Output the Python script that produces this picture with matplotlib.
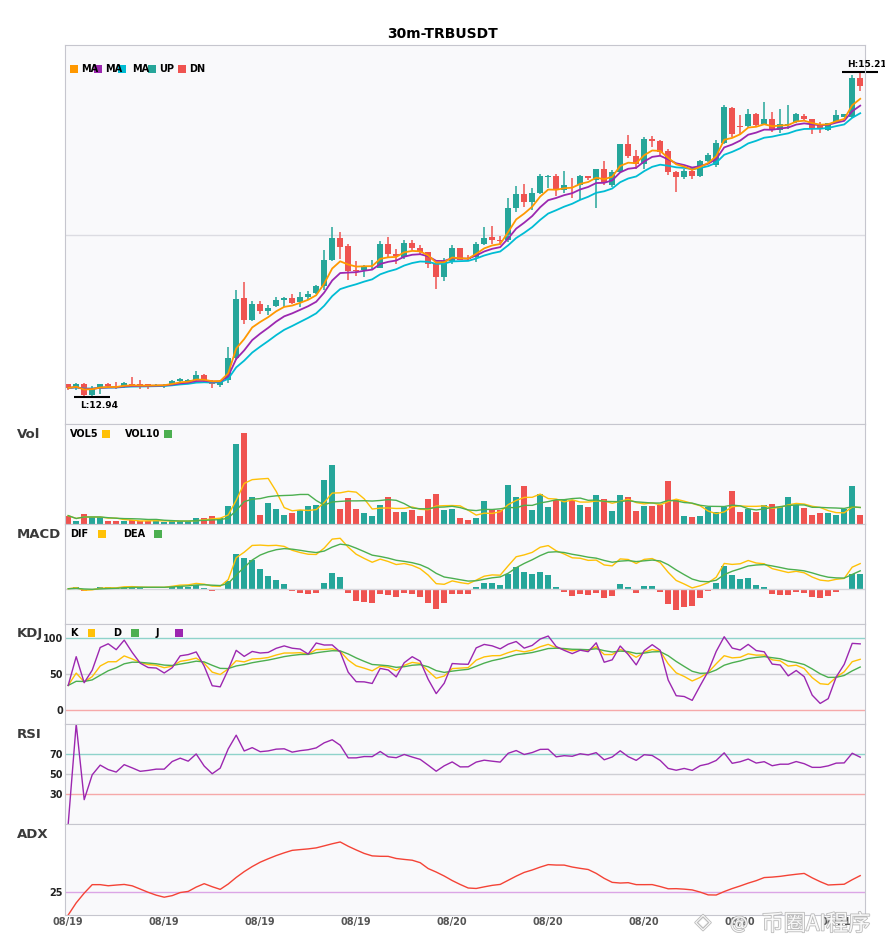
import numpy as np
import pandas as pd
import matplotlib
matplotlib.use('Agg')
import matplotlib.pyplot as plt
from matplotlib.patches import Rectangle
import matplotlib.patheffects as pe

# 30m candles
opens = [13.031, 13.008, 13.031, 12.956, 13.005, 13.031, 13.019, 13.017, 13.036, 13.031,
         13.031, 13.019, 13.017, 13.026, 13.052, 13.050, 13.063, 13.096, 13.047, 13.024,
         13.059, 13.214, 13.635, 13.477, 13.589, 13.542, 13.575, 13.616, 13.632, 13.603,
         13.640, 13.667, 13.714, 13.895, 14.049, 13.993, 13.829, 13.826, 13.853, 13.844,
         14.007, 13.937, 13.918, 14.014, 13.979, 13.951, 13.872, 13.779, 13.888, 13.979,
         13.914, 13.918, 14.007, 14.058, 14.035, 14.035, 14.260, 14.356, 14.302, 14.365,
         14.479, 14.481, 14.388, 14.414, 14.418, 14.481, 14.453, 14.535, 14.418, 14.511,
         14.704, 14.621, 14.565, 14.739, 14.727, 14.656, 14.511, 14.476, 14.516, 14.481,
         14.588, 14.558, 14.716, 14.960, 14.832, 14.832, 14.914, 14.842, 14.879, 14.802,
         14.835, 14.860, 14.902, 14.879, 14.837, 14.802, 14.853, 14.895, 14.891, 15.167]
highs = [13.036, 13.038, 13.040, 13.017, 13.036, 13.040, 13.047, 13.047, 13.082, 13.059,
         13.036, 13.033, 13.031, 13.059, 13.077, 13.070, 13.121, 13.100, 13.063, 13.063,
         13.291, 13.686, 13.742, 13.610, 13.610, 13.582, 13.640, 13.640, 13.658, 13.674,
         13.679, 13.720, 13.965, 14.128, 14.093, 14.012, 13.888, 13.861, 13.895, 14.030,
         14.058, 13.977, 14.040, 14.040, 14.000, 13.953, 13.884, 13.914, 14.000, 13.984,
         13.930, 14.023, 14.128, 14.133, 14.063, 14.328, 14.411, 14.430, 14.396, 14.495,
         14.493, 14.495, 14.518, 14.472, 14.488, 14.483, 14.535, 14.586, 14.523, 14.709,
         14.767, 14.663, 14.755, 14.760, 14.737, 14.674, 14.515, 14.535, 14.546, 14.593,
         14.640, 14.732, 14.976, 14.965, 14.907, 14.953, 14.923, 15.000, 14.930, 14.949,
         14.976, 14.919, 14.914, 14.883, 14.860, 14.852, 14.942, 14.916, 15.186, 15.210]
lows = [12.989, 12.994, 12.942, 12.940, 12.966, 13.012, 13.001, 13.008, 13.012, 13.001,
        12.996, 13.010, 13.008, 13.019, 13.043, 13.036, 13.052, 13.050, 13.008, 13.012,
        13.040, 13.198, 13.449, 13.470, 13.519, 13.512, 13.570, 13.570, 13.589, 13.570,
        13.616, 13.663, 13.686, 13.888, 13.902, 13.756, 13.786, 13.779, 13.826, 13.838,
        13.918, 13.872, 13.907, 13.965, 13.930, 13.838, 13.693, 13.751, 13.872, 13.895,
        13.891, 13.884, 14.000, 14.007, 14.000, 14.023, 14.232, 14.267, 14.249, 14.360,
        14.396, 14.342, 14.365, 14.326, 14.319, 14.453, 14.260, 14.418, 14.407, 14.502,
        14.605, 14.535, 14.530, 14.686, 14.628, 14.488, 14.372, 14.465, 14.465, 14.476,
        14.581, 14.546, 14.709, 14.755, 14.767, 14.825, 14.825, 14.837, 14.790, 14.783,
        14.814, 14.853, 14.865, 14.774, 14.783, 14.797, 14.849, 14.891, 14.884, 15.076]
closes = [13.005, 13.031, 12.956, 13.001, 13.031, 13.019, 13.012, 13.038, 13.029, 13.019,
          13.022, 13.026, 13.026, 13.052, 13.066, 13.059, 13.093, 13.059, 13.031, 13.056,
          13.214, 13.628, 13.477, 13.589, 13.542, 13.566, 13.621, 13.632, 13.598, 13.637,
          13.663, 13.714, 13.895, 14.049, 13.988, 13.821, 13.822, 13.858, 13.857, 14.007,
          13.937, 13.925, 14.014, 13.981, 13.951, 13.872, 13.779, 13.888, 13.979, 13.900,
          13.902, 14.007, 14.054, 14.040, 14.028, 14.260, 14.356, 14.302, 14.365, 14.481,
          14.486, 14.384, 14.418, 14.410, 14.481, 14.467, 14.530, 14.441, 14.511, 14.704,
          14.621, 14.565, 14.739, 14.727, 14.651, 14.511, 14.476, 14.516, 14.481, 14.586,
          14.628, 14.716, 14.965, 14.774, 14.825, 14.914, 14.837, 14.879, 14.802, 14.844,
          14.844, 14.914, 14.879, 14.818, 14.818, 14.849, 14.907, 14.912, 15.167, 15.111]
volumes = [25, 8, 30, 21, 21, 8, 8, 8, 13, 8, 10, 10, 6, 10, 8, 8, 18, 18, 25, 18,
           55, 238, 271, 81, 28, 63, 45, 28, 33, 41, 55, 58, 133, 175, 45, 78, 45, 33, 23, 58,
           81, 37, 35, 43, 23, 76, 91, 41, 45, 18, 11, 18, 70, 41, 43, 118, 80, 115, 43, 91,
           51, 73, 73, 73, 58, 51, 88, 75, 38, 88, 81, 38, 55, 55, 58, 130, 73, 25, 21, 23,
           51, 35, 51, 98, 35, 45, 35, 58, 61, 51, 80, 58, 48, 28, 33, 33, 28, 45, 113, 28]
date_ticks = [0, 12, 24, 36, 48, 60, 72, 84, 96]
date_labels = ['08/19', '08/19', '08/19', '08/19', '08/20', '08/20', '08/20', '08/20', '08/21']

UP = '#26a69a'
DN = '#ef5350'
C_MA1, C_MA2, C_MA3 = '#ff9800', '#9c27b0', '#00bcd4'
YEL, GRN, PUR = '#ffc107', '#4caf50', '#9c27b0'

df = pd.DataFrame({'open': opens, 'high': highs, 'low': lows, 'close': closes, 'vol': volumes})
x = np.arange(len(df))
c = df['close']

# moving averages
ma1 = c.ewm(span=5, adjust=False).mean()
ma2 = c.ewm(span=8, adjust=False).mean()
ma3 = c.ewm(span=13, adjust=False).mean()
vol5 = df['vol'].rolling(5, min_periods=1).mean()
vol10 = df['vol'].rolling(10, min_periods=1).mean()

# MACD (fast settings)
dif = c.ewm(span=6, adjust=False).mean() - c.ewm(span=13, adjust=False).mean()
dea = dif.ewm(span=5, adjust=False).mean()
hist = 2 * (dif - dea)

# KDJ
low9 = df['low'].rolling(9, min_periods=1).min()
high9 = df['high'].rolling(9, min_periods=1).max()
rsv = (c - low9) / (high9 - low9) * 100
k = rsv.ewm(com=2, adjust=False).mean()
d = k.ewm(com=2, adjust=False).mean()
j = 3 * k - 2 * d

# RSI
delta = c.diff()
gain = delta.clip(lower=0).ewm(alpha=1/14).mean()
loss = (-delta.clip(upper=0)).ewm(alpha=1/14).mean()
rsi = (100 - 100 / (1 + gain / loss)).fillna(0)

# ADX
h, l = df['high'], df['low']
up_m = h.diff()
dn_m = -l.diff()
pdm = pd.Series(np.where((up_m > dn_m) & (up_m > 0), up_m, 0.0))
ndm = pd.Series(np.where((dn_m > up_m) & (dn_m > 0), dn_m, 0.0))
tr = pd.concat([h - l, (h - c.shift()).abs(), (l - c.shift()).abs()], axis=1).max(axis=1)
atr = tr.ewm(span=14, adjust=False).mean()
pdi = 100 * pdm.ewm(span=14, adjust=False).mean() / atr
ndi = 100 * ndm.ewm(span=14, adjust=False).mean() / atr
dx = (100 * (pdi - ndi).abs() / (pdi + ndi)).fillna(0)
adx = dx.ewm(span=14, adjust=False).mean()

W, H = 885, 950
fig = plt.figure(figsize=(W / 100, H / 100), dpi=100)


def box(top, bottom):
    return [65 / W, 1 - bottom / H, 800 / W, (bottom - top) / H]


panels = [(45, 424), (424, 524), (524, 624), (624, 724), (724, 824), (824, 915)]
axs = [fig.add_axes(box(t, b)) for t, b in panels]
for ax in axs:
    ax.set_facecolor('#f9f9fb')
    for s in ax.spines.values():
        s.set_color('#c6c6ce')
    ax.set_xlim(-0.4, len(df) - 0.4)
    ax.set_xticks(date_ticks)
    ax.set_xticklabels([])
    ax.set_yticks([])
    ax.tick_params(length=0, labelsize=7, labelcolor='#222', pad=1.5)

ax_k, ax_v, ax_m, ax_kdj, ax_rsi, ax_adx = axs
colors = np.where(df['close'] >= df['open'], UP, DN)

# candles
ax_k.vlines(x, df['low'], df['high'], colors=colors, lw=1.1)
body = np.maximum((df['close'] - df['open']).abs(), 0.004)
ax_k.bar(x, body, bottom=np.minimum(df['open'], df['close']), width=0.75, color=colors)
ax_k.plot(x, ma3, color=C_MA3, lw=1.3)
ax_k.plot(x, ma2, color=C_MA2, lw=1.3)
ax_k.plot(x, ma1, color=C_MA1, lw=1.3)
lo, hi = df['low'].min(), df['high'].max()
pad = (hi - lo) * 0.082
ax_k.set_ylim(lo - pad, hi + pad)
ax_k.set_yticks([(lo + hi) / 2])
ax_k.set_yticklabels([])
ax_k.grid(axis='y', color='#dcdce2', lw=1)
ih, il = int(df['high'].idxmax()), int(df['low'].idxmin())
ax_k.hlines(hi, ih - 2.3, ih + 2.2, color='black', lw=1.5, clip_on=False)
ax_k.annotate(f'H:{hi:.2f}', (ih - 1.6, hi), xytext=(0, 2), textcoords='offset points',
              fontsize=6.5, fontweight='bold', va='bottom', annotation_clip=False)
ax_k.hlines(lo, il - 2.3, il + 2.2, color='black', lw=1.5, clip_on=False)
ax_k.annotate(f'L:{lo:.2f}', (il - 1.5, lo), xytext=(0, -3), textcoords='offset points',
              fontsize=6.5, fontweight='bold', va='top', annotation_clip=False)

# volume
ax_v.bar(x, df['vol'], width=0.75, color=colors)
ax_v.plot(x, vol5, color=YEL, lw=1)
ax_v.plot(x, vol10, color=GRN, lw=1)
ax_v.set_ylim(0, df['vol'].max() * 1.103)

# MACD
ax_m.axhline(0, color='#d6d6dc', lw=1)
ax_m.bar(x, hist, width=0.75, color=np.where(hist >= 0, UP, DN))
ax_m.plot(x, dif, color=YEL, lw=1)
ax_m.plot(x, dea, color=GRN, lw=1)
mlo = min(dif.min(), dea.min(), hist.min())
mhi = max(dif.max(), dea.max(), hist.max())
ax_m.set_ylim(mlo - 0.2 * (mhi - mlo), mhi + 0.2 * (mhi - mlo))

# KDJ
for v, col in [(100, '#8fd3cb'), (50, '#cfcfd4'), (0, '#f6a9a9')]:
    ax_kdj.axhline(v, color=col, lw=1)
ax_kdj.plot(x, k, color=YEL, lw=1)
ax_kdj.plot(x, d, color=GRN, lw=1)
ax_kdj.plot(x, j, color=PUR, lw=1)
ax_kdj.set_ylim(-20, 120)
ax_kdj.set_yticks([0, 50, 100])

# RSI
for v, col in [(70, '#8fd3cb'), (50, '#cfcfd4'), (30, '#f6a9a9')]:
    ax_rsi.axhline(v, color=col, lw=1)
ax_rsi.plot(x, rsi, color=PUR, lw=1)
ax_rsi.set_ylim(0, 100)
ax_rsi.set_yticks([30, 50, 70])

# ADX
ax_adx.axhline(25, color='#dba6e6', lw=1)
ax_adx.plot(x, adx, color='#f44336', lw=1)
ax_adx.set_ylim(0, 100)
ax_adx.set_yticks([25])
ax_adx.set_xticklabels(date_labels, fontsize=7, fontweight='bold', color='#555')

for ax in axs:
    for t in ax.get_yticklabels():
        t.set_fontweight('bold')


def px(xp, yp):
    return xp / W, 1 - yp / H


def square(xp, yp, col):
    fig.add_artist(Rectangle(px(xp, yp + 3.7), 7.5 / W, 7.5 / H,
                             transform=fig.transFigure, color=col, lw=0))


def label(xp, yp, s, size=7, **kw):
    fig.text(*px(xp, yp), s, va='center', fontsize=size, fontweight='bold', **kw)


fig.text(*px(443, 34), '30m-TRBUSDT', ha='center', va='center', fontsize=10, fontweight='bold')

# legends
for sx, tx, col, s in [(70, 81, C_MA1, 'MA'), (94.3, 105.3, C_MA2, 'MA'), (118.3, 131.7, C_MA3, 'MA'),
                       (148.3, 159.3, UP, 'UP'), (178.3, 189, DN, 'DN')]:
    label(tx, 69, s)
    square(sx, 69, col)
for tx, sx, col, s in [(70, 102, YEL, 'VOL5'), (125, 164, GRN, 'VOL10')]:
    label(tx, 434, s)
    square(sx, 434, col)
for tx, sx, col, s in [(70, 98, YEL, 'DIF'), (123, 154, GRN, 'DEA')]:
    label(tx, 534, s)
    square(sx, 534, col)
for tx, sx, col, s in [(70, 87.5, YEL, 'K'), (113, 131, GRN, 'D'), (156, 175, PUR, 'J')]:
    label(tx, 633, s)
    square(sx, 633, col)

for name, yp in [('Vol', 434), ('MACD', 535), ('KDJ', 634), ('RSI', 735), ('ADX', 835)]:
    label(17, yp, name, size=9.5, color='#3a3a3a')

# watermark
wm = dict(va='center', color='white', alpha=0.9,
          path_effects=[pe.withStroke(linewidth=1.2, foreground='#b4b4b4')])
fig.text(*px(703, 922), '◈', ha='center', fontsize=15, family='DejaVu Sans', **wm)
fig.text(*px(739, 924), '@', ha='center', fontsize=13, family='DejaVu Sans', **wm)
fig.text(*px(816, 924), '币圈AI程序', ha='center', fontsize=16,
         family=['Noto Sans CJK SC', 'DejaVu Sans'], **wm)

fig.savefig('out.png', dpi=100)
